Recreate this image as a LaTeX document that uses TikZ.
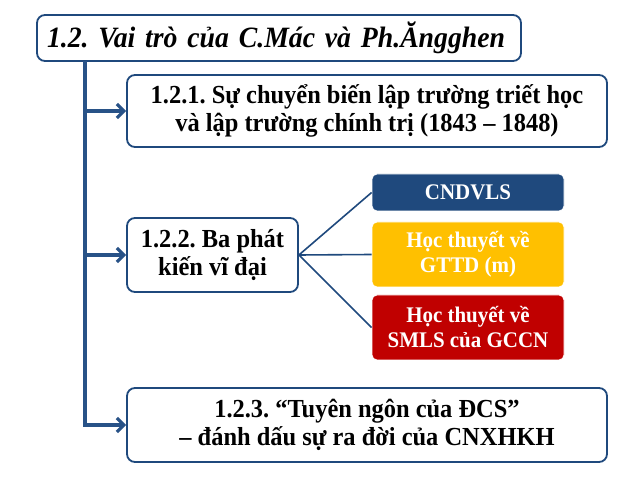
\documentclass[tikz,border=0pt]{standalone}
\usepackage{fontspec}
\setmainfont{Liberation Serif}[FakeStretch=0.94]
\usetikzlibrary{arrows.meta}
\definecolor{dblue}{RGB}{31,73,125}
\definecolor{lblue}{RGB}{40,82,135}
\definecolor{myyellow}{RGB}{255,192,0}
\definecolor{myred}{RGB}{192,0,0}
\tikzset{
  wbox/.style={draw=dblue, line width=1.8pt, fill=white, rounded corners=8pt, align=center, inner sep=0pt, font=\bfseries\fontsize{26}{28}\selectfont},
  cbox/.style={draw=white, line width=0.8pt, rounded corners=5pt, align=center, inner sep=0pt, text=white, font=\bfseries\fontsize{22.3}{25}\selectfont, minimum width=192pt},
  trunk/.style={draw=lblue, line width=3.6pt},
  arr/.style={trunk, -{Straight Barb[length=7pt, width=14pt, line width=3.2pt]}},
  thin/.style={draw=dblue, line width=1.6pt}
}
\begin{document}
\frenchspacing
\begin{tikzpicture}[x=1pt,y=-1pt]
\useasboundingbox (0,0) rectangle (638,478);
\node[wbox, minimum height=46pt, inner xsep=10pt, text width=464pt, align=left, font=\bfseries\itshape\fontsize{29.5}{32}\selectfont] (title) at (279,38) {1.2. Vai trò của C.Mác và Ph.Ăngghen};
\node[wbox, minimum width=480pt, minimum height=72pt] (b1) at (367,111) {1.2.1. Sự chuyển biến lập trường triết học\\và lập trường chính trị (1843 – 1848)};
\node[wbox, minimum width=171pt, minimum height=74pt] (b2) at (212.5,255) {1.2.2. Ba phát\\kiến vĩ đại};
\node[wbox, minimum width=480pt, minimum height=74pt] (b3) at (367,425) {1.2.3. “Tuyên ngôn của ĐCS”\\– đánh dấu sự ra đời của CNXHKH};
\node[cbox, fill=dblue, minimum height=37pt] (c1) at (468,192.5) {CNDVLS};
\node[cbox, fill=myyellow, minimum height=65pt] (c2) at (468,254.5) {Học thuyết về\\GTTD (m)};
\node[cbox, fill=myred, minimum height=65pt] (c3) at (468,327.5) {Học thuyết về\\SMLS của GCCN};
\coordinate (top) at (85,61);
\draw[arr] (top) |- (b3.west);
\draw[arr] (top |- b1.west) -- (b1.west);
\draw[arr] (top |- b2.west) -- (b2.west);
\draw[thin] (b2.east) -- (c1.west);
\draw[thin] (b2.east) -- (c2.west);
\draw[thin] (b2.east) -- (c3.west);
\end{tikzpicture}
\end{document}
